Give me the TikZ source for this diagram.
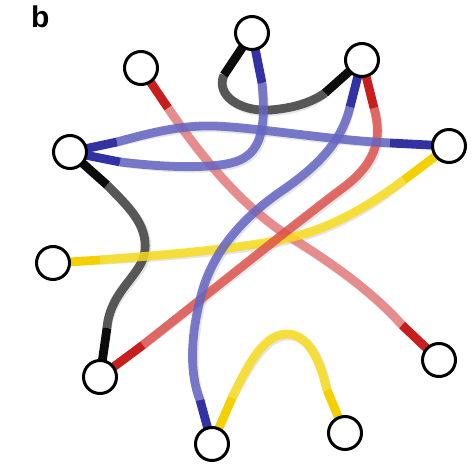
\documentclass[tikz,border=0pt]{standalone}
\usepackage{fontspec}
\setsansfont{Liberation Sans}
\definecolor{dblue}{RGB}{50,50,165}
\definecolor{lblue}{RGB}{100,100,195}
\definecolor{dred}{RGB}{200,30,30}
\definecolor{lred}{RGB}{222,78,72}
\definecolor{pred}{RGB}{230,118,118}
\definecolor{dblk}{RGB}{12,12,12}
\definecolor{lgry}{RGB}{75,75,75}
\definecolor{dyel}{RGB}{245,208,0}
\definecolor{lyel}{RGB}{248,220,30}
\tikzset{
  vert/.style={circle,draw=black,fill=white,line width=3pt,minimum size=33pt,inner sep=0pt},
  strand/.style={line width=8.8pt,line cap=butt},
  shade/.style={line width=9.5pt,draw=black,opacity=0.10,shift={(1.5,1.5)}},
}
\begin{document}
\begin{tikzpicture}[x=1pt,y=-1pt]
\useasboundingbox (0,0) rectangle (474,474);
\path (252,33) coordinate (A) (141,68) coordinate (B) (362,60) coordinate (C)
      (70,152) coordinate (D) (449,146) coordinate (E) (53,263) coordinate (F)
      (439,360) coordinate (G) (100,377) coordinate (H) (212,444) coordinate (I)
      (345,433) coordinate (J);
\coordinate (a1) at (224,75);  \coordinate (a2) at (325,93);
\coordinate (b1) at (262,83);  \coordinate (b2) at (120,162);
\coordinate (c1) at (117,142); \coordinate (c2) at (390,143);
\coordinate (d1) at (350,107); \coordinate (d2) at (200,400);
\coordinate (e1) at (374,108); \coordinate (e2) at (143,345);
\coordinate (f1) at (168,108); \coordinate (f2) at (402,325);
\coordinate (g1) at (107,185); \coordinate (g2) at (107,328);
\coordinate (h1) at (232,398); \coordinate (h2) at (327,390);
\coordinate (i1) at (100,260); \coordinate (i2) at (404,180);
% shadows
\draw[shade] (a1) .. controls (215,95) and (240,112) .. (270,110) .. controls (295,108) and (312,102) .. (a2);
\draw[shade] (b1) .. controls (266,125) and (262,150) .. (240,160) .. controls (220,169) and (170,168) .. (b2);
\draw[shade] (c1) .. controls (150,133) and (180,125) .. (215,126) .. controls (260,128) and (330,140) .. (c2);
\draw[shade] (d1) .. controls (342,140) and (320,165) .. (280,192) .. controls (240,220) and (210,255) .. (200,300) .. controls (190,340) and (190,375) .. (d2);
\draw[shade] (e1) .. controls (383,140) and (375,165) .. (340,190) .. controls (300,220) and (200,300) .. (e2);
\draw[shade] (f1) .. controls (200,155) and (240,205) .. (290,237) .. controls (340,268) and (375,295) .. (f2);
\draw[shade] (g1) .. controls (130,208) and (147,225) .. (145,250) .. controls (143,275) and (110,290) .. (g2);
\draw[shade] (h1) .. controls (250,360) and (265,334) .. (287,334) .. controls (308,334) and (320,360) .. (h2);
\draw[shade] (i1) .. controls (150,256) and (230,250) .. (280,240) .. controls (330,230) and (370,205) .. (i2);
% light middles
\draw[strand,lgry,opacity=0.92] (a1) .. controls (215,95) and (240,112) .. (270,110) .. controls (295,108) and (312,102) .. (a2);
\draw[strand,lgry,opacity=0.92] (g1) .. controls (130,208) and (147,225) .. (145,250) .. controls (143,275) and (110,290) .. (g2);
\draw[strand,pred,opacity=0.8] (f1) .. controls (200,155) and (240,205) .. (290,237) .. controls (340,268) and (375,295) .. (f2);
\draw[strand,lyel,opacity=0.85] (i1) .. controls (150,256) and (230,250) .. (280,240) .. controls (330,230) and (370,205) .. (i2);
\draw[strand,lyel,opacity=0.85] (h1) .. controls (250,360) and (265,334) .. (287,334) .. controls (308,334) and (320,360) .. (h2);
\draw[strand,lred,opacity=0.82] (e1) .. controls (383,140) and (375,165) .. (340,190) .. controls (300,220) and (200,300) .. (e2);
\draw[strand,lblue,opacity=0.85] (b1) .. controls (266,125) and (262,150) .. (240,160) .. controls (220,169) and (170,168) .. (b2);
\draw[strand,lblue,opacity=0.85] (c1) .. controls (150,133) and (180,125) .. (215,126) .. controls (260,128) and (330,140) .. (c2);
\draw[strand,lblue,opacity=0.85] (d1) .. controls (342,140) and (320,165) .. (280,192) .. controls (240,220) and (210,255) .. (200,300) .. controls (190,340) and (190,375) .. (d2);
% dark ends
\draw[strand,dblk] (A) -- (a1); \draw[strand,dblk] (a2) -- (C);
\draw[strand,dblue] (A) -- (b1); \draw[strand,dblue] (b2) -- (D);
\draw[strand,dblue] (D) -- (c1); \draw[strand,dblue] (c2) -- (E);
\draw[strand,dblue] (C) -- (d1); \draw[strand,dblue] (d2) -- (I);
\draw[strand,dred] (C) -- (e1); \draw[strand,dred] (e2) -- (H);
\draw[strand,dred] (B) -- (f1); \draw[strand,dred] (f2) -- (G);
\draw[strand,dblk] (D) -- (g1); \draw[strand,dblk] (g2) -- (H);
\draw[strand,dyel] (I) -- (h1); \draw[strand,dyel] (h2) -- (J);
\draw[strand,dyel] (F) -- (i1); \draw[strand,dyel] (i2) -- (E);
% vertices
\foreach \n in {A,B,C,D,E,F,G,H,I,J} \node[vert] (v\n) at (\n) {};
\node[anchor=base west,inner sep=0pt,font=\sffamily\bfseries\fontsize{30}{30}\selectfont] (lab) at (31,27) {b};
\end{tikzpicture}
\end{document}
